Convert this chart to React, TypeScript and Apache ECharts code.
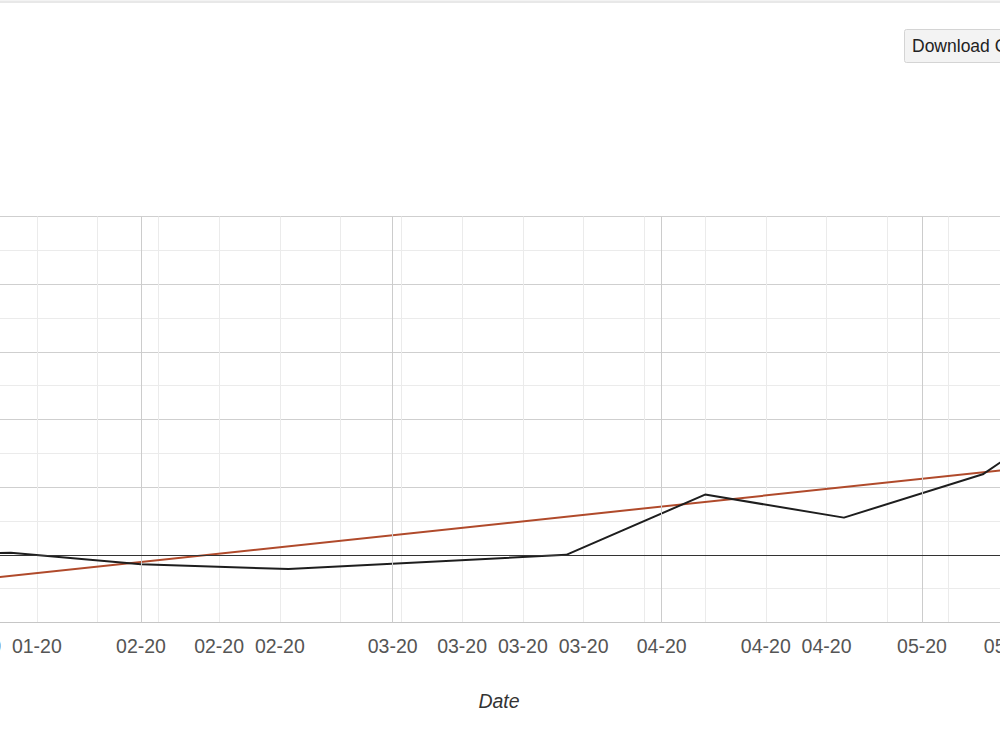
import React, { useEffect, useRef } from "react";
import * as echarts from "echarts";

// Series data (black line)
const dates = ["2020-01-10", "2020-01-17", "2020-02-01", "2020-02-18", "2020-03-21", "2020-04-06", "2020-04-22", "2020-05-08", "2020-05-11"];
const values = [0.2, 0.3, -1.4, -2.1, 0, 8.9, 5.5, 11.9, 14.5];

// Trendline (red) endpoints
const trendDates = ["2020-01-10", "2020-05-11"];
const trendValues = [-4.06, 12.6];

// Tick label dates on the x axis
const labelDates = ["2020-01-13", "2020-01-20", "2020-02-01", "2020-02-10", "2020-02-17", "2020-03-01", "2020-03-09", "2020-03-16", "2020-03-23", "2020-04-01", "2020-04-13", "2020-04-20", "2020-05-01", "2020-05-11"];

// Month boundaries (darker vertical grid lines)
const monthDates = ["2020-02-01", "2020-03-01", "2020-04-01", "2020-05-01"];

const ORIGIN = Date.parse("2020-01-06T00:00:00Z"); // a Monday
const DAY = 86400000;
const toX = (d: string) => (Date.parse(d + "T00:00:00Z") - ORIGIN) / DAY;
const fmt = (x: number) => {
  const d = new Date(ORIGIN + Math.round(x) * DAY);
  const mm = String(d.getUTCMonth() + 1).padStart(2, "0");
  const yy = String(d.getUTCFullYear() % 100).padStart(2, "0");
  return mm + "-" + yy;
};

const OFFSET = 100;

export default function App() {
  const ref = useRef<HTMLDivElement>(null);
  useEffect(() => {
    if (!ref.current) return;
    const chart = echarts.init(ref.current, null, { renderer: "svg" });
    const font = "'Liberation Sans', Arial, sans-serif";
    chart.setOption({
      animation: false,
      backgroundColor: "#ffffff",
      grid: { left: 76.1, right: 91.2, top: 216.5, bottom: 127.5, containLabel: false },
      xAxis: {
        type: "value",
        min: 7,
        max: 126,
        interval: 7,
        axisLine: { show: true, onZero: false, lineStyle: { color: "#c6c6c6", width: 1 } },
        axisTick: { show: false },
        axisLabel: {
          customValues: labelDates.map(toX),
          formatter: (v: number) => fmt(v),
          color: "#555555",
          fontFamily: font,
          fontSize: 19.5,
          margin: 13,
          showMinLabel: true,
          showMaxLabel: true,
        },
        splitLine: { show: true, lineStyle: { color: "#ebebeb", width: 1 } },
      },
      yAxis: {
        type: "value",
        min: -10,
        max: 50,
        interval: 10,
        axisLine: { show: false },
        axisTick: { show: false },
        axisLabel: { show: false },
        splitLine: { show: true, lineStyle: { color: "#cfcfcf", width: 1 } },
        minorTick: { show: false, splitNumber: 2 },
        minorSplitLine: { show: true, lineStyle: { color: "#ebebeb", width: 1 } },
      },
      graphic: [
        { type: "rect", shape: { x: 0, y: 0.5, width: 1200, height: 2.5 }, style: { fill: "#e8e8e8" }, silent: true },
        {
          type: "rect",
          shape: { x: 904.5 + OFFSET, y: 29.5, width: 130, height: 33, r: 2 },
          style: { fill: "#f3f3f3", stroke: "#d4d4d4", lineWidth: 1 },
          silent: true,
        },
        {
          type: "text",
          x: 912 + OFFSET,
          y: 46,
          style: { text: "Download CSV", fill: "#222222", font: "17.5px 'Liberation Sans', Arial, sans-serif", textVerticalAlign: "middle" },
          silent: true,
        },
        {
          type: "text",
          x: 499 + OFFSET,
          y: 701,
          style: { text: "Date", fill: "#333333", font: "italic 19.5px 'Liberation Sans', Arial, sans-serif", textAlign: "center", textVerticalAlign: "middle" },
          silent: true,
        },
      ],
      series: [
        {
          type: "line",
          data: [],
          z: 1,
          silent: true,
          markLine: {
            silent: true,
            symbol: "none",
            label: { show: false },
            animation: false,
            data: [
              ...monthDates.map((d) => ({ xAxis: toX(d), lineStyle: { color: "#cccccc", width: 1, type: "solid" } })),
              { yAxis: 0, lineStyle: { color: "#333333", width: 1, type: "solid" } },
            ],
          },
        },
        {
          type: "line",
          name: "Trend",
          data: trendDates.map((d, i) => [toX(d), trendValues[i]]),
          showSymbol: false,
          symbol: "none",
          z: 3,
          lineStyle: { color: "#b04a2b", width: 2 },
          silent: true,
        },
        {
          type: "line",
          name: "Value",
          data: dates.map((d, i) => [toX(d), values[i]]),
          showSymbol: false,
          symbol: "none",
          z: 4,
          lineStyle: { color: "#1e1e1e", width: 2 },
          silent: true,
        },
      ],
    });
    return () => chart.dispose();
  }, []);
  return (
    <div style={{ position: "fixed", left: 0, top: 0, width: 1000, height: 750, overflow: "hidden", background: "#fff" }}>
      <div ref={ref} style={{ position: "absolute", left: -OFFSET, top: 0, width: 1200, height: 750 }} />
    </div>
  );
}
